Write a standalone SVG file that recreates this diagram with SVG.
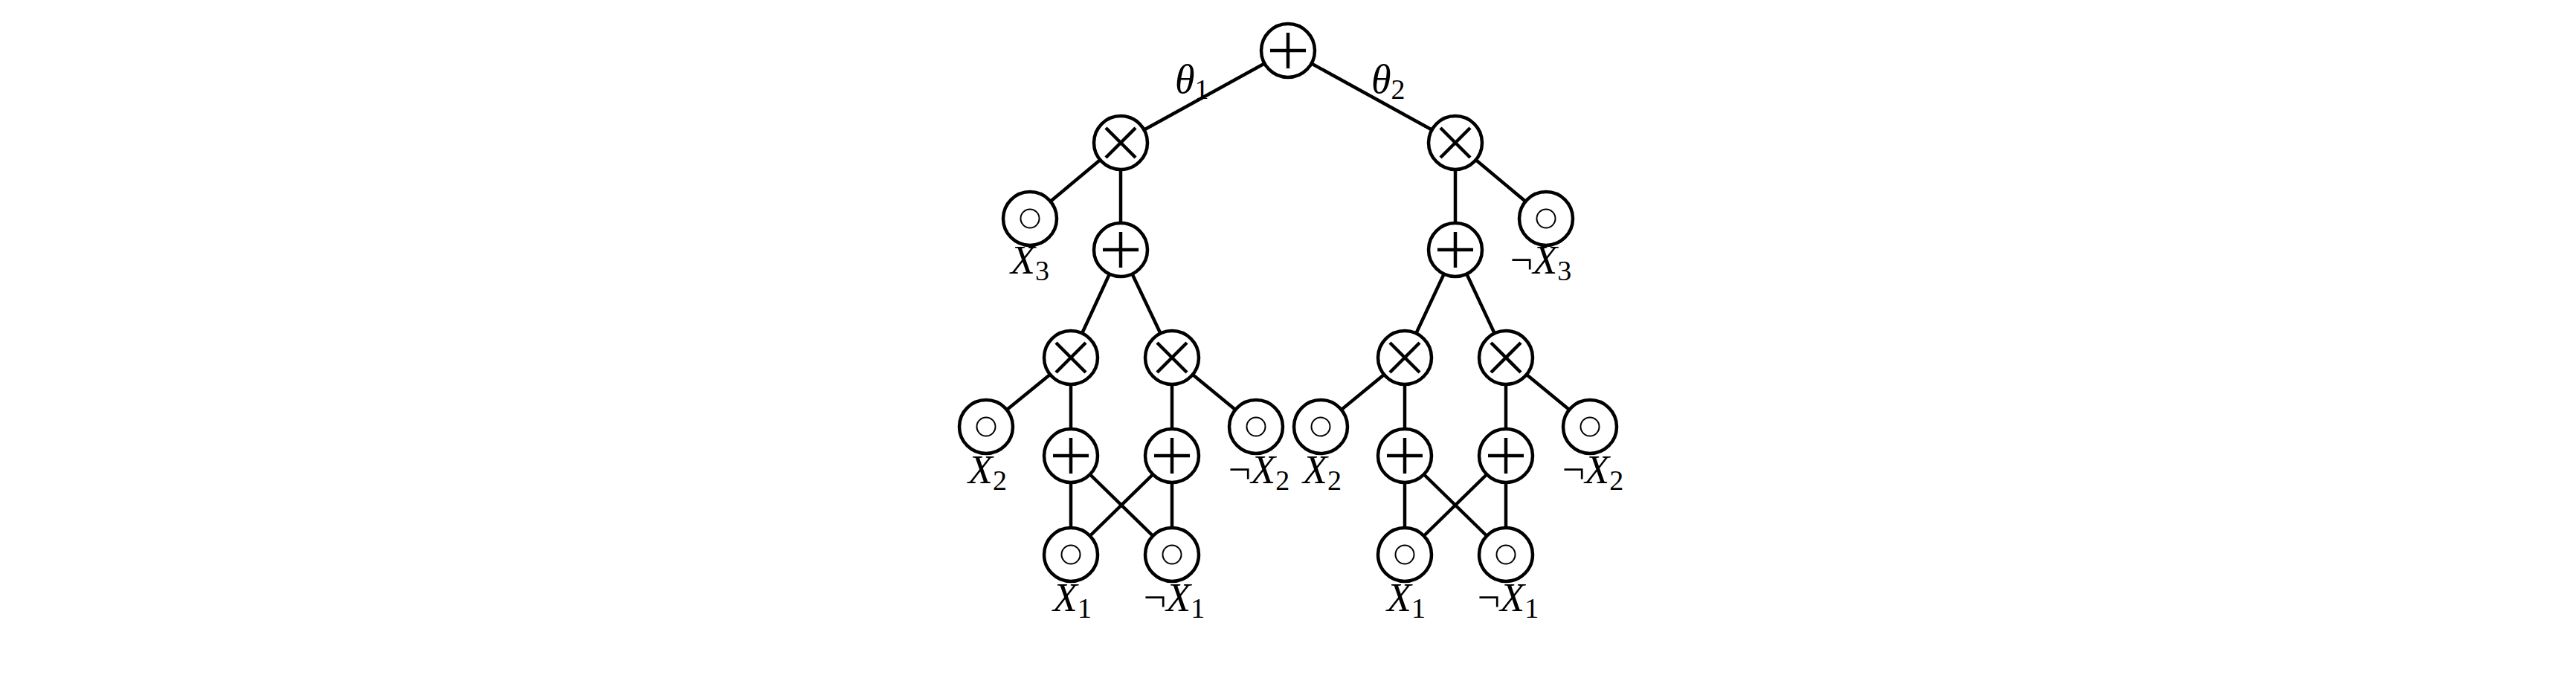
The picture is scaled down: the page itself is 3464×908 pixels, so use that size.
<svg xmlns="http://www.w3.org/2000/svg" width="3464" height="908" viewBox="0 0 3464 908">
<style>
.n{fill:#fff;stroke:#000;stroke-width:4.5}
.s{stroke:#000;stroke-width:4.5;fill:none}
.i{fill:none;stroke:#000;stroke-width:2}
.e line{stroke:#000;stroke-width:4.5}
text{font-family:"Liberation Serif",serif;font-size:54px;fill:#000}
.m{font-style:italic}
.sub{font-size:38px;font-style:normal}
</style>
<defs>
<g id="plus"><circle class="n" r="36"/><path class="s" d="M-24 0H24M0-24V24"/></g>
<g id="times"><circle class="n" r="36"/><path class="s" d="M-20-20L20 20M20-20L-20 20"/></g>
<g id="leaf"><circle class="n" r="36"/><circle class="i" r="12.5"/></g>
</defs>
<rect width="3464" height="908" fill="#fff"/>
<g class="e" id="edges">
<line x1="1732" y1="68" x2="1507" y2="192"/><line x1="1732" y1="68" x2="1957" y2="192"/>
<line x1="1507" y1="192" x2="1385" y2="294"/><line x1="1507" y1="192" x2="1507" y2="336"/>
<line x1="1957" y1="192" x2="2079" y2="294"/><line x1="1957" y1="192" x2="1957" y2="336"/>
<line x1="1507" y1="336" x2="1440" y2="481"/><line x1="1507" y1="336" x2="1576" y2="481"/>
<line x1="1957" y1="336" x2="1889" y2="481"/><line x1="1957" y1="336" x2="2025" y2="481"/>
<line x1="1440" y1="481" x2="1326" y2="574"/><line x1="1440" y1="481" x2="1440" y2="613"/>
<line x1="1576" y1="481" x2="1689" y2="574"/><line x1="1576" y1="481" x2="1576" y2="613"/>
<line x1="1889" y1="481" x2="1776" y2="574"/><line x1="1889" y1="481" x2="1889" y2="613"/>
<line x1="2025" y1="481" x2="2138" y2="574"/><line x1="2025" y1="481" x2="2025" y2="613"/>
<line x1="1440" y1="613" x2="1440" y2="746"/><line x1="1440" y1="613" x2="1576" y2="746"/>
<line x1="1576" y1="613" x2="1576" y2="746"/><line x1="1576" y1="613" x2="1440" y2="746"/>
<line x1="1889" y1="613" x2="1889" y2="746"/><line x1="1889" y1="613" x2="2025" y2="746"/>
<line x1="2025" y1="613" x2="2025" y2="746"/><line x1="2025" y1="613" x2="1889" y2="746"/>
</g>
<g id="root"><use href="#plus" x="1732" y="68"/></g>
<g id="p1"><use href="#times" x="1507" y="192"/></g>
<g id="p2"><use href="#times" x="1957" y="192"/></g>
<g id="x3"><use href="#leaf" x="1385" y="294"/></g>
<g id="nx3"><use href="#leaf" x="2079" y="294"/></g>
<g id="s1"><use href="#plus" x="1507" y="336"/></g>
<g id="s2"><use href="#plus" x="1957" y="336"/></g>
<g id="t1"><use href="#times" x="1440" y="481"/></g>
<g id="t2"><use href="#times" x="1576" y="481"/></g>
<g id="t3"><use href="#times" x="1889" y="481"/></g>
<g id="t4"><use href="#times" x="2025" y="481"/></g>
<g id="l1"><use href="#leaf" x="1326" y="574"/></g>
<g id="l2"><use href="#leaf" x="1689" y="574"/></g>
<g id="l3"><use href="#leaf" x="1776" y="574"/></g>
<g id="l4"><use href="#leaf" x="2138" y="574"/></g>
<g id="q1"><use href="#plus" x="1440" y="613"/></g>
<g id="q2"><use href="#plus" x="1576" y="613"/></g>
<g id="q3"><use href="#plus" x="1889" y="613"/></g>
<g id="q4"><use href="#plus" x="2025" y="613"/></g>
<g id="b1"><use href="#leaf" x="1440" y="746"/></g>
<g id="b2"><use href="#leaf" x="1576" y="746"/></g>
<g id="b3"><use href="#leaf" x="1889" y="746"/></g>
<g id="b4"><use href="#leaf" x="2025" y="746"/></g>
<g id="labels">
<text x="1580" y="125" class="m">θ<tspan class="sub" dy="8">1</tspan></text>
<text x="1844" y="125" class="m">θ<tspan class="sub" dy="8">2</tspan></text>
<text x="1385" y="368" text-anchor="middle" class="m">X<tspan class="sub" dy="9">3</tspan></text>
<text x="2072" y="368" text-anchor="middle">¬<tspan class="m">X</tspan><tspan class="sub" dy="9">3</tspan></text>
<text x="1328" y="650" text-anchor="middle" class="m">X<tspan class="sub" dy="9">2</tspan></text>
<text x="1693" y="650" text-anchor="middle">¬<tspan class="m">X</tspan><tspan class="sub" dy="9">2</tspan></text>
<text x="1778" y="650" text-anchor="middle" class="m">X<tspan class="sub" dy="9">2</tspan></text>
<text x="2142" y="650" text-anchor="middle">¬<tspan class="m">X</tspan><tspan class="sub" dy="9">2</tspan></text>
<text x="1442" y="822" text-anchor="middle" class="m">X<tspan class="sub" dy="9">1</tspan></text>
<text x="1579" y="822" text-anchor="middle">¬<tspan class="m">X</tspan><tspan class="sub" dy="9">1</tspan></text>
<text x="1891" y="822" text-anchor="middle" class="m">X<tspan class="sub" dy="9">1</tspan></text>
<text x="2028" y="822" text-anchor="middle">¬<tspan class="m">X</tspan><tspan class="sub" dy="9">1</tspan></text>
</g>
</svg>
